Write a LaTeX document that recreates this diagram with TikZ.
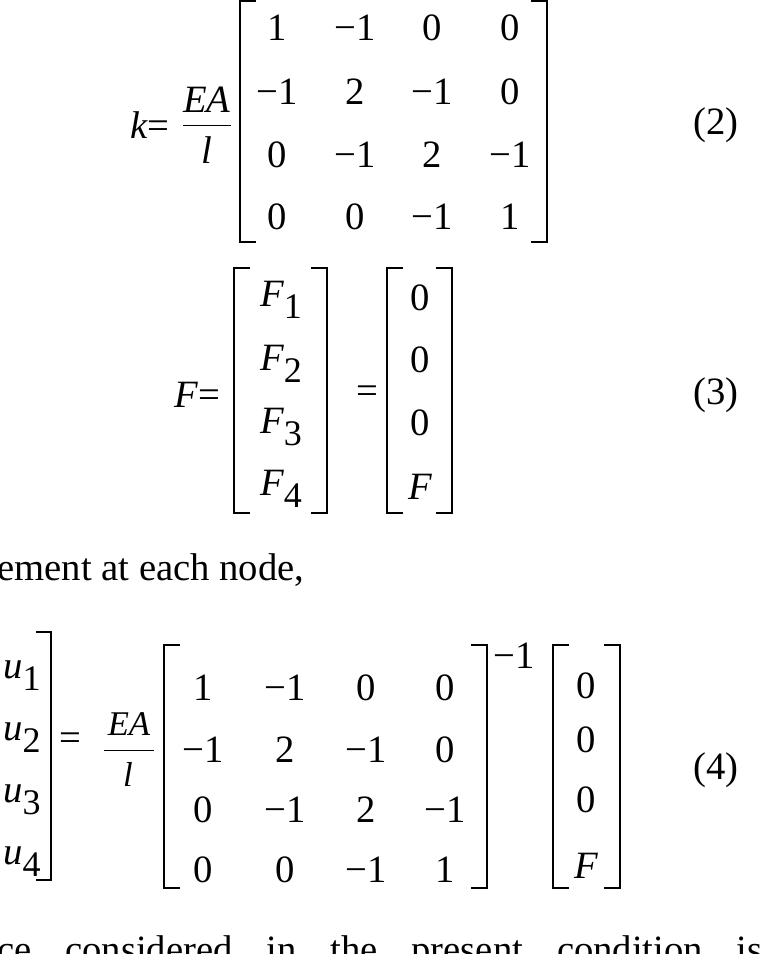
\documentclass[tikz,border=0pt]{standalone}
\usepackage{fontspec}
\setmainfont{Liberation Serif}
\begin{document}
\begin{tikzpicture}[x=0.75pt,y=-0.75pt,
  every node/.style={inner sep=0pt,font=\fontsize{29}{34}\selectfont},
  br/.style={line width=1.6pt}]
\useasboundingbox (0,0) rectangle (764,954);
\newcommand{\mysub}[2]{\textit{#1}\raisebox{-9pt}{\fontsize{27}{30}\selectfont #2}}
% Eq 2
\node (k) at (150,125) {\textit{k}=};
\node (ea1) at (207,100) {\textit{EA}};
\draw (183,125) -- (231,125);
\node (l1) at (207,150) {\textit{l}};
\draw[br] (256,1) -- (240,1) -- (240,242) -- (256,242);
\draw[br] (531,1) -- (547,1) -- (547,242) -- (531,242);
\foreach \a/\b/\c/\d/\y in {1/−1/0/0/28,−1/2/−1/0/92,0/−1/2/−1/155,0/0/−1/1/217}{
  \node at (277,\y) {\a}; \node at (355,\y) {\b};
  \node at (432,\y) {\c}; \node at (510,\y) {\d};}
\node (n2) at (716,125) {(2)};
% Eq 3
\node (F) at (197,395) {\textit{F}=};
\draw[br] (250,268) -- (234,268) -- (234,513) -- (250,513);
\draw[br] (311,268) -- (327,268) -- (327,513) -- (311,513);
\node at (281,300) {\mysub{F}{1}};
\node at (281,364) {\mysub{F}{2}};
\node at (281,427) {\mysub{F}{3}};
\node at (281,489) {\mysub{F}{4}};
\node at (367,395) {=};
\draw[br] (403,268) -- (387,268) -- (387,513) -- (403,513);
\draw[br] (436,268) -- (452,268) -- (452,513) -- (436,513);
\node at (420,298) {0};
\node at (420,360) {0};
\node at (420,423) {0};
\node at (420,487) {\textit{F}};
\node (n3) at (716,395) {(3)};
% text
\node[anchor=base west] (t1) at (-3,580) {ement at each node,};
% Eq 4
\node at (22,676) {\mysub{u}{1}};
\node at (22,738) {\mysub{u}{2}};
\node at (22,800) {\mysub{u}{3}};
\node at (22,862) {\mysub{u}{4}};
\draw[br] (36,632) -- (51,632) -- (51,880) -- (36,880);
\node at (70,742) {=};
\node[font=\fontsize{26}{30}\selectfont] (ea2) at (129,724) {\textit{EA}};
\draw (104,750) -- (154,750);
\node[font=\fontsize{26}{30}\selectfont] (l2) at (128,774) {\textit{l}};
\draw[br] (180,645) -- (164,645) -- (164,888) -- (180,888);
\draw[br] (471,645) -- (487,645) -- (487,888) -- (471,888);
\foreach \a/\b/\c/\d/\y in {1/−1/0/0/688,−1/2/−1/0/750,0/−1/2/−1/810,0/0/−1/1/870}{
  \node at (203,\y) {\a}; \node at (285,\y) {\b};
  \node at (366,\y) {\c}; \node at (445,\y) {\d};}
\node at (514,656) {−1};
\draw[br] (569,645) -- (553,645) -- (553,888) -- (569,888);
\draw[br] (604,645) -- (620,645) -- (620,888) -- (604,888);
\node at (586,686) {0};
\node at (586,740) {0};
\node at (586,800) {0};
\node at (586,866) {\textit{F}};
\node (n4) at (716,770) {(4)};
\node[anchor=base west] (t2) at (-3,962) {\makebox[574pt][s]{ce considered in the present condition is}};
\end{tikzpicture}
\end{document}
